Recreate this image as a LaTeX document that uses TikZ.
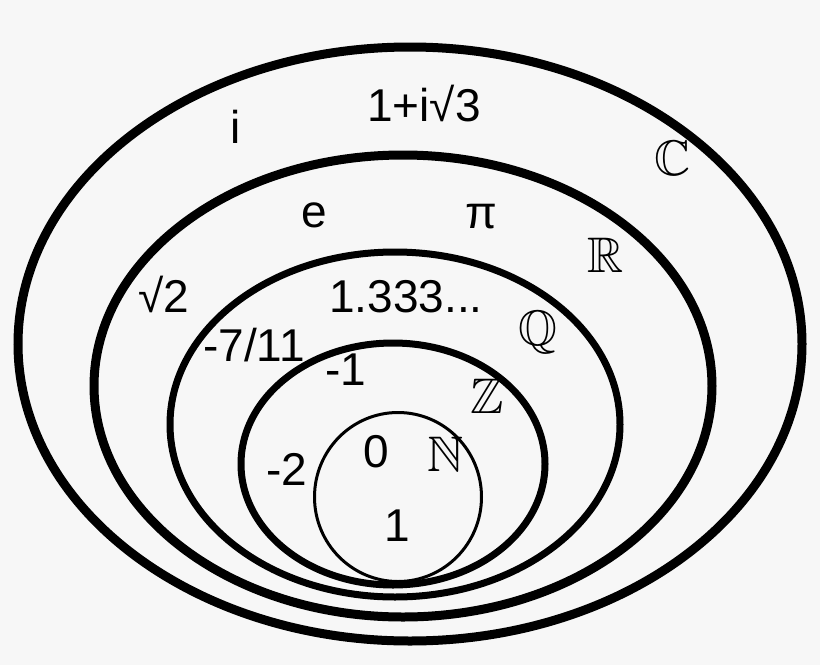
\documentclass[tikz,border=0pt]{standalone}
\usepackage{amssymb}
\usepackage{fontspec}
\setmainfont{Liberation Sans}
\definecolor{bg}{HTML}{F7F7F7}
\tikzset{
  setline/.style={draw=black, line width=#1},
  num/.style={anchor=base, inner sep=0pt, font=\fontsize{46}{50}\selectfont},
  bb/.style={anchor=base, inner sep=0pt, font=\fontsize{50}{54}\selectfont},
}
\begin{document}
\begin{tikzpicture}[x=1pt,y=-1pt]
\useasboundingbox (0,0) rectangle (820,665);
\fill[bg] (0,0) rectangle (820,665);
% sets
\draw[setline=9pt] (410,344) ellipse [x radius=392pt, y radius=297pt];
\draw[setline=9pt] (403,386) ellipse [x radius=309pt, y radius=231pt];
\draw[setline=7pt] (395,424.5) ellipse [x radius=225pt, y radius=172.5pt];
\draw[setline=7pt] (393,464) ellipse [x radius=152pt, y radius=121pt];
\draw[setline=3pt] (398,497) ellipse [x radius=83.5pt, y radius=84.5pt];
% labels
\node[num] (ti) at (236,143) {i};
\node[num] (tc) at (424,121) {1+i√3};
\node[bb] (lC) at (673,175) {$\mathbb{C}$};
\node[num] (te) at (314,227) {e};
\node[num] (tpi) at (481,228) {π};
\node[bb] (lR) at (606,272) {$\mathbb{R}$};
\node[num] (tsq) at (164,312) {√2};
\node[num] (tq) at (406,312) {1.333...};
\node[bb] (lQ) at (538,345) {$\mathbb{Q}$};
\node[num] (tf) at (254,361) {-7/11};
\node[num] (tm1) at (346,385) {-1};
\node[bb] (lZ) at (487,413) {$\mathbb{Z}$};
\node[num] (tm2) at (287,485) {-2};
\node[num] (t0) at (376,467) {0};
\node[bb] (lN) at (446,471) {$\mathbb{N}$};
\node[num] (t1) at (397,541) {1};
\end{tikzpicture}
\end{document}
